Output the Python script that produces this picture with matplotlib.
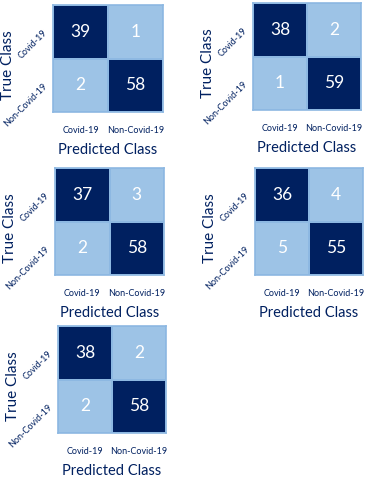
import numpy as np
import matplotlib
matplotlib.use("Agg")
import matplotlib.pyplot as plt
from matplotlib.colors import ListedColormap, BoundaryNorm

plt.rcParams['font.family'] = ['Lato', 'DejaVu Sans']

class_labels = ["Covid-19", "Non-Covid-19"]
cm_1 = [[39, 1], [2, 58]]
cm_2 = [[38, 2], [1, 59]]
cm_3 = [[37, 3], [2, 58]]
cm_4 = [[36, 4], [5, 55]]
cm_5 = [[38, 2], [2, 58]]
matrices = [cm_1, cm_2, cm_3, cm_4, cm_5]

W, H = 370, 480
# axes boxes in pixels: left, top, right, bottom
boxes = [(53, 5, 163, 112), (253, 3, 361, 110),
         (55, 168, 164, 275), (255, 168, 363, 275),
         (58, 326, 166, 433)]

navy = "#002060"
light = "#9DC3E6"
edge = "#8DB8E2"
cmap = ListedColormap([light, navy])
norm = BoundaryNorm([0, 20, 100], 2)

fig = plt.figure(figsize=(W / 100, H / 100), dpi=100)
for cm, (l, t, r, b) in zip(matrices, boxes):
    w, h = r - l, b - t
    ax = fig.add_axes([l / W, 1 - b / H, w / W, h / H])
    data = np.array(cm)
    ax.pcolormesh(data, cmap=cmap, norm=norm, edgecolors=edge, linewidth=1.2)
    ax.set_xlim(0, 2)
    ax.set_ylim(2, 0)
    for i in range(2):
        for j in range(2):
            ax.text(j + 0.5, i + 0.5, str(data[i, j]), ha="center", va="center",
                    color="white", fontsize=12.5)
    ax.set_xticks([0.5, 1.5])
    ax.set_yticks([0.5, 1.5])
    ax.set_xticklabels(class_labels, fontsize=6.5, color=navy)
    ax.set_yticklabels(class_labels, fontsize=6.5, color=navy, rotation=45,
                       va="center", ha="right", rotation_mode="anchor")
    ax.tick_params(length=0, pad=5)
    ax.tick_params(axis="x", pad=10)
    for s in ax.spines.values():
        s.set_color(edge)
        s.set_linewidth(1.2)
    ax.set_xlabel("Predicted Class", fontsize=10.5, color=navy, va="center")
    ax.xaxis.set_label_coords(0.5, -38 / h)
    ax.set_ylabel("True Class", fontsize=11, color=navy, va="center")
    ax.yaxis.set_label_coords(-45 / w, 0.5 - 7 / h)

fig.savefig("out.png", dpi=100)
